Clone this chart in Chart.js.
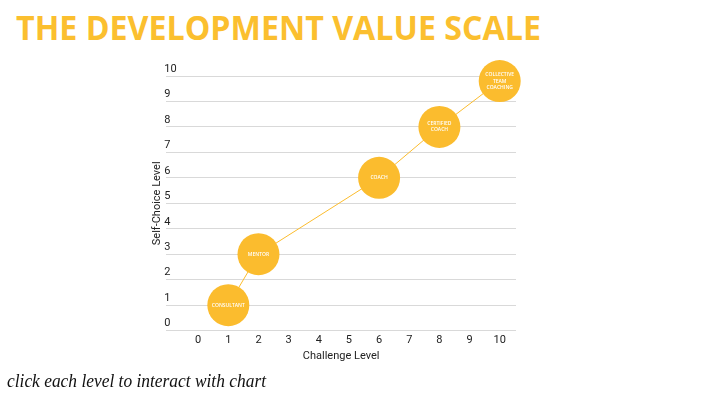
<!DOCTYPE html>
<html>
<head>
<meta charset="utf-8">
<script src="https://cdn.jsdelivr.net/npm/chart.js@4.4.0/dist/chart.umd.min.js"></script>
<style>
  html,body{margin:0;padding:0;background:#fff;}
  #wrap{position:relative;width:704px;height:396px;overflow:hidden;}
  #title{position:absolute;left:16px;top:7px;font-family:"Open Sans",sans-serif;font-weight:700;font-size:34px;color:#fbbf2f;white-space:nowrap;transform-origin:0 0;line-height:40px;}
  #foot{position:absolute;left:7px;top:370px;font-family:"Liberation Serif",serif;font-style:italic;font-size:18px;color:#111;white-space:nowrap;transform-origin:0 0;line-height:22px;}
  #c{position:absolute;left:0;top:0;}
</style>
</head>
<body>
<div id="wrap">
  <div id="title">THE DEVELOPMENT VALUE SCALE</div>
  <canvas id="c" width="704" height="396"></canvas>
  <div id="foot">click each level to interact with chart</div>
</div>
<script>
// ---- data ----
const levelNames = [["CONSULTANT"], ["MENTOR"], ["COACH"], ["CERTIFIED", "COACH"], ["COLLECTIVE", "TEAM", "COACHING"]];
const challengeLevel = [1, 2, 6, 8, 10];
const selfChoiceLevel = [1, 3, 6, 8, 9.8];
const xTickValues = [0, 1, 2, 3, 4, 5, 6, 7, 8, 9, 10];
const yTickValues = [0, 1, 2, 3, 4, 5, 6, 7, 8, 9, 10];

// fit headline widths
function fit(id, w){
  const el = document.getElementById(id);
  const cur = el.getBoundingClientRect().width;
  el.style.transform = 'scaleX(' + (w / cur) + ')';
}
fit('title', 525);
fit('foot', 259);

const YELLOW = '#fbbc2e';

const labelPlugin = {
  id: 'bubbleLabels',
  afterDatasetsDraw(chart){
    const ctx = chart.ctx;
    const meta = chart.getDatasetMeta(0);
    ctx.save();
    ctx.fillStyle = '#ffffff';
    ctx.font = '600 5px "Open Sans", sans-serif';
    ctx.textAlign = 'center';
    ctx.textBaseline = 'middle';
    meta.data.forEach((pt, i) => {
      const lines = levelNames[i];
      const lh = 6.3;
      const start = pt.y - (lines.length - 1) * lh / 2;
      lines.forEach((t, j) => ctx.fillText(t, pt.x, start + j * lh));
    });
    ctx.restore();
  }
};

new Chart(document.getElementById('c'), {
  type: 'scatter',
  data: {
    datasets: [{
      data: challengeLevel.map((x, i) => ({x: x, y: selfChoiceLevel[i]})),
      showLine: true,
      borderColor: YELLOW,
      borderWidth: 1,
      pointRadius: 21,
      pointHoverRadius: 21,
      pointBackgroundColor: YELLOW,
      pointBorderColor: YELLOW,
      pointBorderWidth: 0,
      clip: false
    }]
  },
  options: {
    responsive: false,
    animation: false,
    events: [],
    layout: {padding: {left: 151, right: 188, top: 76, bottom: 33}},
    plugins: {legend: {display: false}, tooltip: {enabled: false}},
    scales: {
      x: {
        type: 'linear',
        min: -1.06,
        max: 10.54,
        afterBuildTicks: (axis) => { axis.ticks = xTickValues.map(v => ({value: v})); },
        grid: {display: false, drawTicks: false},
        border: {display: false},
        ticks: {font: {family: 'Roboto', size: 11}, color: '#222', padding: 3},
        title: {display: true, text: 'Challenge Level', font: {family: 'Roboto', size: 11}, color: '#222', padding: {top: 0, bottom: 0}}
      },
      y: {
        type: 'linear',
        min: 0,
        max: 10,
        afterBuildTicks: (axis) => { axis.ticks = yTickValues.map(v => ({value: v})); },
        grid: {color: '#d9d9d9', lineWidth: 1, drawTicks: false},
        border: {display: false},
        ticks: {mirror: true, padding: -2, labelOffset: -7, font: {family: 'Roboto', size: 11}, color: '#222'},
        title: {display: true, text: 'Self-Choice Level', font: {family: 'Roboto', size: 11}, color: '#222', padding: {top: 0, bottom: 6}}
      }
    }
  },
  plugins: [labelPlugin]
});
</script>
</body>
</html>
